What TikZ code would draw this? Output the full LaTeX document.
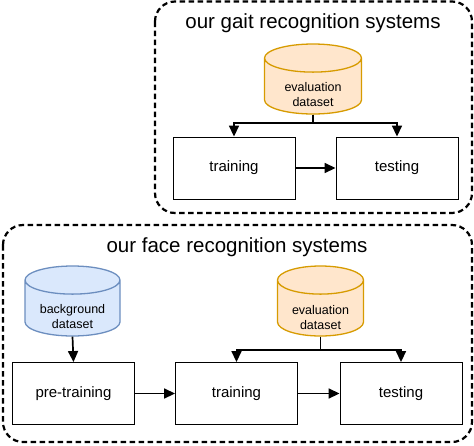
\documentclass[tikz,border=0pt]{standalone}
\usepackage{fontspec}
\setmainfont{Liberation Sans}
\usetikzlibrary{shapes.geometric,arrows.meta}
\definecolor{evalfill}{HTML}{FFE6CC}
\definecolor{evaldraw}{HTML}{D79B00}
\definecolor{bgfill}{HTML}{DAE8FC}
\definecolor{bgdraw}{HTML}{6C8EBF}
\newcommand{\dbtext}[1]{\raisebox{-10.5pt}[0pt][0pt]{\begin{tabular}{@{}c@{}}#1\end{tabular}}}
\begin{document}
\begin{tikzpicture}[x=1pt,y=-1pt,
    system/.style={draw,line width=2.2pt,dash pattern=on 5.5pt off 3.5pt,rounded corners=20pt},
    title/.style={font=\fontsize{20.5}{22}\selectfont},
    stage/.style={draw,line width=0.9pt,minimum width=122pt,minimum height=62pt,font=\fontsize{15}{17}\selectfont},
    data/.style={cylinder,shape border rotate=90,aspect=0.34,draw,line width=1.3pt,
      text width=76pt,align=center,minimum width=#1,minimum height=70pt,anchor=shape center,
      font=\fontsize{12.5}{15}\selectfont},
    evaldata/.style={data=#1,fill=evalfill,draw=evaldraw},
    bgdata/.style={data=#1,fill=bgfill,draw=bgdraw},
    flow/.style={line width=1.7pt,-{Triangle[length=11pt,width=10pt]}}]
  \useasboundingbox (0,0) rectangle (474,445);

  \draw[system] (155,1.5) rectangle (472,213);
  \node[title] (gait) at (313,23) {our gait recognition systems};
  \node[evaldata=97pt] (gaiteval) at (313,79) {\dbtext{evaluation\\dataset}};
  \node[stage] (gaittrain) at (234,168) {training};
  \node[stage] (gaittest) at (397,168) {testing};
  \draw[flow] (gaiteval.south) -- ++(0,8) -| (gaittrain.north);
  \draw[flow] (gaiteval.south) -- ++(0,8) -| (gaittest.north);
  \draw[flow] (gaittrain) -- (gaittest);

  \draw[system] (3,225) rectangle (472,442);
  \node[title] (face) at (237,247) {our face recognition systems};
  \node[bgdata=95pt] (facebg) at (72.5,301) {\dbtext{background\\dataset}};
  \node[evaldata=86pt] (faceeval) at (320.5,301) {\dbtext{evaluation\\dataset}};
  \node[stage] (facepre) at (73.5,393.5) {pre-training};
  \node[stage] (facetrain) at (236.5,393.5) {training};
  \node[stage] (facetest) at (401,393.5) {testing};
  \draw[flow] (facebg.south) -- (facepre.north);
  \draw[flow] (faceeval.south) -- ++(0,13) -| (facetrain.north);
  \draw[flow] (faceeval.south) -- ++(0,13) -| (facetest.north);
  \draw[flow] (facepre) -- (facetrain);
  \draw[flow] (facetrain) -- (facetest);
\end{tikzpicture}
\end{document}
